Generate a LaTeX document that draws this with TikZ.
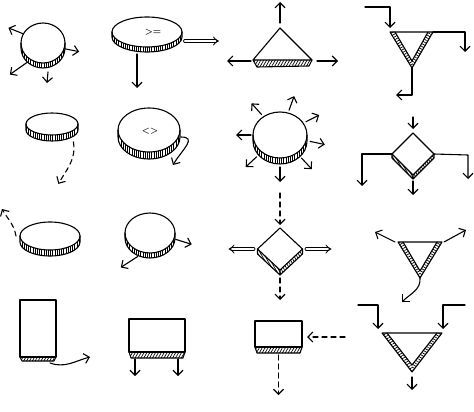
\documentclass[tikz,border=0pt]{standalone}
\usetikzlibrary{arrows.meta,shapes.geometric,patterns.meta}

\begin{document}
\begin{tikzpicture}[x=1pt,y=-1pt,
  pen/.style={line width=1.1pt,line cap=round,line join=round},
  coin/.style={ellipse,draw,pen,inner sep=0pt,outer sep=0pt},
  box/.style={rectangle,draw,pen,inner sep=0pt,outer sep=0pt},
  rhomb/.style={diamond,draw,pen,inner sep=0pt,outer sep=0pt},
  ribs/.style={pattern={Lines[angle=90,distance=2.2pt,line width=.7pt]}},
  hatch/.style={pattern={Lines[angle=#1,distance=2.5pt,line width=.7pt]}},
  hatch/.default=60,
  dashy/.style={dash pattern=on 5pt off 4pt},
  sign/.style={font=\small\bfseries},
  >={Straight Barb[length=5pt,width=10pt]},
  dbl/.style={double,double distance=2.2pt,line width=.8pt,-{Implies}}]

\useasboundingbox (0,0) rectangle (474,412);

% coins
\foreach \n/\x/\y/\a/\b/\t in {c1/43/43/22/20/5, c2/147/32/35/15/5, c3/52/124/26/11/6,
    c4/149/130/31/22/7, c5/50/236/30/14/6, c6/150/233/25/20/5, sun/280/135/27/23/6}{
  \node[coin,minimum width=2*\a pt,minimum height=2*\b pt] (\n) at (\x,\y) {};
  \fill[ribs] (\n.west) arc[start angle=180,end angle=360,x radius=\a pt,y radius=\b pt]
    -- ++(0,\t) arc[start angle=0,end angle=-180,x radius=\a pt,y radius=\b pt] -- cycle;
  \draw[pen] (\n.west) -- ++(0,\t) arc[start angle=180,end angle=360,x radius=\a pt,y radius=\b pt] -- (\n.east);
}
\node[sign] (ge) at (153,32) {>=};
\node[sign] (ne) at (150,131) {<>};

\draw[pen,->] (c1.155) -- ++(-15,-6);
\draw[pen,->] (c1.345) -- ++(15,3);
\draw[pen,->] ([yshift=-6pt]c1.220) -- ++(-17,12);
\draw[pen,->] ([shift={(5,9)}]c1.south) -- ++(-1,11);

\draw[pen,dbl] ([shift={(3,9)}]c2.east) -- ++(34,0);
\draw[pen,->] ([shift={(-10,7)}]c2.south) -- ++(0,34);

\draw[pen,->,dashy] ([shift={(6,9)}]c3.330) to[out=-80,in=60] ++(-15,42);
\draw[pen,->] ([shift={(1,7)}]c4.east) to[out=0,in=60,looseness=1.5] ++(-8,28);
\draw[pen,->,dashy] ([xshift=-4pt]c5.west) to[out=100,in=-60] ++(-14,-27);
\draw[pen,->] ([xshift=2pt]c6.345) -- ++(16,5);
\draw[pen,->] ([yshift=-6pt]c6.235) -- ++(-17,11);

\foreach \g/\s in {132/3,70/3,27/3,180/2,-12/4,223/7,-47/7,-90/9}
  \draw[pen,->] ([shift={(\g:\s pt)}]sun.\g) -- ++(\g:15pt);

% cone
\coordinate (ct) at (280,28);
\coordinate (cl) at (253,60);
\coordinate (cr) at (312,60);
\fill[hatch] (cl) -- (cr) -- ++(-3,6) -- ([shift={(4,7)}]cl) -- cycle;
\draw[pen] (cl) -- (ct) -- (cr) -- cycle;
\draw[pen] (cl) -- ++(4,7) -- ([shift={(-3,6)}]cr) -- (cr);
\draw[pen,->] ([yshift=5pt]ct) -- ++(0,-21);
\draw[pen,->] ([shift={(-2,1)}]cl) -- ++(-24,0);
\draw[pen,->] ([shift={(5,1)}]cr) -- ++(21,0);

% triangles
\foreach \t/\ax/\bx/\ty/\cx/\cy in {t1/390/433/32/412/68, t3/398/442/242/420/278, t4/382/442/333/412/372}{
  \coordinate (\t-a) at (\ax,\ty);
  \coordinate (\t-b) at (\bx,\ty);
  \coordinate (\t-c) at (\cx,\cy);
  \fill[hatch=30] (\t-a) -- ([xshift=5pt]\t-a) -- ([yshift=7pt]\t-c) -- (\t-c) -- cycle;
  \fill[hatch=150] (\t-b) -- ([xshift=-5pt]\t-b) -- ([yshift=7pt]\t-c) -- (\t-c) -- cycle;
  \draw[pen] (\t-a) -- (\t-b) -- (\t-c) -- cycle;
  \draw[pen] ([xshift=5pt]\t-a) -- ([yshift=7pt]\t-c) -- ([xshift=-5pt]\t-b);
}
\draw[pen,->] ([shift={(-25,-25)}]t1-a) -| ([yshift=4pt]t1-a);
\draw[pen,->] (t1-b) -- ++(32,0) -- ++(0,20);
\draw[pen,->] (t1-c) |- ++(-16,27);

\draw[pen,->] ([xshift=-3pt]t3-a) -- ++(-20,-10);
\draw[pen,->] ([xshift=2pt]t3-b) -- ++(22,-12);
\draw[pen,->] (t3-c) to[out=-85,in=45] ++(-18,24);

\draw[pen,->] ([shift={(-24,-28)}]t4-a) -| ([shift={(-4,-4)}]t4-a);
\draw[pen,->] ([shift={(23,-28)}]t4-b) -| ([shift={(1,-4)}]t4-b);
\draw[pen,->] ([yshift=-5pt]t4-c) -- ++(0,13);

% diamonds
\node[rhomb,minimum width=42pt,minimum height=42pt] (d1) at (413,154) {};
\node[rhomb,minimum width=45pt,minimum height=42pt] (d2) at (280,249) {};
\foreach \d/\t in {d1/4,d2/5}{
  \fill[hatch=120] (\d.west) -- (\d.south) -- (\d.east) -- ([yshift=-\t pt]\d.east)
    -- ([yshift=-\t pt]\d.south) -- ([yshift=-\t pt]\d.west) -- cycle;
  \draw[pen] (\d.west) -- ([yshift=-\t pt]\d.west) -- ([yshift=-\t pt]\d.south)
    -- ([yshift=-\t pt]\d.east) -- (\d.east) (\d.south) -- ([yshift=-\t pt]\d.south);
}
\draw[pen,->] ([yshift=16pt]d1.north) -- ([yshift=4pt]d1.north);
\draw[pen,->] (d1.west) -- ++(-30,0) -- ++(0,32);
\draw[pen,->] (d1.east) -- ++(34,1) -- ++(0,24);
\draw[pen,->] ([yshift=-6pt]d1.south) -- ++(0,14);

\draw[pen,->,dashy] ([yshift=-35pt]sun.south) -- ([yshift=3pt]d2.north);
\draw[pen,dbl] ([xshift=-4pt]d2.west) -- ++(-25,0);
\draw[pen,dbl] ([xshift=4pt]d2.east) -- ++(25,0);
\draw[pen,->,dashy] ([yshift=-8pt]d2.south) -- ++(0,22);

% boxes
\node[box,minimum width=36pt,minimum height=57pt] (r1) at (38,328.5) {};
\node[box,minimum width=56pt,minimum height=33pt] (r2) at (157,335.5) {};
\node[box,minimum width=47pt,minimum height=26pt] (r3) at (278.5,334) {};
\foreach \r/\t in {r1/4,r2/6,r3/6}{
  \fill[hatch] (\r.south west) -- (\r.south east) -- ++(-2,\t) -- ([shift={(2,\t)}]\r.south west) -- cycle;
  \draw[pen] (\r.south west) -- ++(2,\t) -- ([shift={(-2,\t)}]\r.south east) -- (\r.south east);
}
\draw[pen,->] ([shift={(-6,6)}]r1.south east) to[out=-20,in=195] ++(40,-6);
\draw[pen,->] ([shift={(6,7)}]r2.south west) -- ++(0,17);
\draw[pen,->] ([shift={(-7,7)}]r2.south east) -- ++(0,17);
\draw[pen,->,dashy] ([yshift=-8pt]r3.south) -- ++(0,40);
\draw[pen,->,dashy] ([shift={(43,3)}]r3.east) -- ++(-38,0);
\end{tikzpicture}
\end{document}
